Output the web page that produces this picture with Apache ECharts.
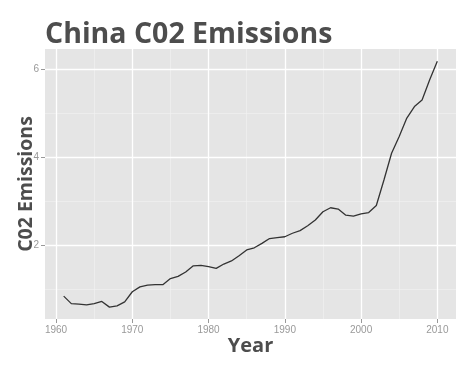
<!DOCTYPE html>
<html>
<head>
<meta charset="utf-8">
<script src="https://cdn.jsdelivr.net/npm/echarts@6/dist/echarts.min.js"></script>
<style>html,body{margin:0;padding:0;background:#fff}#c{width:474px;height:366px}</style>
</head>
<body>
<div id="c"></div>
<script>
const years = [1961,1962,1963,1964,1965,1966,1967,1968,1969,1970,1971,1972,1973,1974,1975,1976,1977,1978,1979,1980,1981,1982,1983,1984,1985,1986,1987,1988,1989,1990,1991,1992,1993,1994,1995,1996,1997,1998,1999,2000,2001,2002,2003,2004,2005,2006,2007,2008,2009,2010];
const emissions = [0.84,0.67,0.66,0.64,0.67,0.72,0.59,0.62,0.71,0.94,1.05,1.09,1.10,1.10,1.24,1.29,1.39,1.53,1.54,1.51,1.47,1.57,1.64,1.76,1.89,1.94,2.04,2.15,2.17,2.19,2.27,2.33,2.44,2.57,2.76,2.85,2.82,2.68,2.66,2.71,2.74,2.90,3.48,4.09,4.47,4.89,5.15,5.30,5.76,6.18];
const xTicks = [1960,1970,1980,1990,2000,2010];
const xMinor = [1965,1975,1985,1995,2005];
const yTicks = [2,4,6];
const yMinor = [1,3,5];

const xMin = 1958.55, xMax = 2012.45;
const yMin = 0.32, yMax = 6.46;

const chart = echarts.init(document.getElementById('c'), null, {renderer:'canvas'});
const gridLines = [];
xMinor.forEach(v => gridLines.push({xAxis: v, lineStyle:{color:'#f2f2f2', width:0.6, type:'solid'}}));
yMinor.forEach(v => gridLines.push({yAxis: v, lineStyle:{color:'#f2f2f2', width:0.6, type:'solid'}}));
xTicks.forEach(v => gridLines.push({xAxis: v, lineStyle:{color:'#ffffff', width:1.3, type:'solid'}}));
yTicks.forEach(v => gridLines.push({yAxis: v, lineStyle:{color:'#ffffff', width:1.3, type:'solid'}}));

chart.setOption({
  animation: false,
  title: {
    text: 'China C02 Emissions',
    left: 40, top: 15,
    textStyle: {fontFamily:'Open Sans', fontWeight:'bold', fontSize:28.5, color:'#4d4d4d'}
  },
  grid: {
    left: 45, top: 49, right: 18, bottom: 47,
    show: true, backgroundColor: '#e5e5e5', borderWidth: 0
  },
  xAxis: {
    type: 'value', min: xMin, max: xMax,
    name: 'Year', nameLocation: 'middle', nameGap: 17, nameMoveOverlap: false,
    nameTextStyle: {fontFamily:'Open Sans', fontWeight:'bold', fontSize:20, color:'#4d4d4d'},
    axisLine: {show:false},
    axisTick: {show:true, length:4, lineStyle:{color:'#999999'}, customValues: xTicks},
    axisLabel: {customValues: xTicks, color:'#999999', fontSize:10, fontFamily:'Liberation Sans', margin:6, formatter: v => String(Math.round(v))},
    splitLine: {show:false}
  },
  yAxis: {
    type: 'value', min: yMin, max: yMax,
    name: 'C02 Emissions', nameLocation: 'middle', nameGap: 9, nameRotate: 90, nameMoveOverlap: false,
    nameTextStyle: {fontFamily:'Open Sans', fontWeight:'bold', fontSize:19.5, color:'#4d4d4d'},
    axisLine: {show:false},
    axisTick: {show:true, length:4, lineStyle:{color:'#999999'}, customValues: yTicks},
    axisLabel: {customValues: yTicks, color:'#999999', fontSize:10, fontFamily:'Liberation Sans', margin:6},
    splitLine: {show:false}
  },
  series: [
    {
      type: 'line', data: [], z: 1, silent: true,
      markLine: {silent:true, symbol:['none','none'], label:{show:false}, animation:false, data: gridLines}
    },
    {
      type: 'line', z: 5,
      data: years.map((y,i) => [y, emissions[i]]),
      showSymbol: false, symbol: 'none',
      lineStyle: {color:'#333333', width:1.3}
    }
  ]
});
</script>
</body>
</html>
